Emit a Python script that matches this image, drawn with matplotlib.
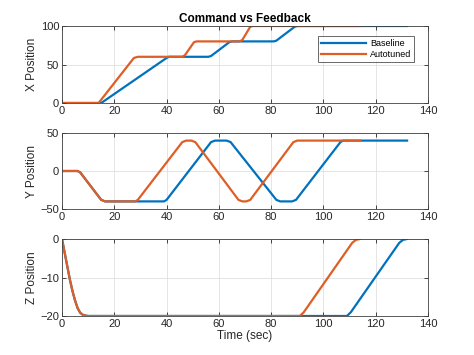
import matplotlib.pyplot as plt
import numpy as np

# Time breakpoints and values
x_base_t = [0, 15, 40, 41, 56, 57, 64, 65, 81, 82, 89, 90, 132]
x_base_v = [0, 0, 58.5, 60, 60, 61, 79, 80, 80, 81, 99, 100, 100]
x_auto_t = [0, 14, 27.5, 29, 46, 47, 50.5, 51.5, 68, 69, 72, 73, 114]
x_auto_v = [0, 0, 58.5, 60, 60, 62, 79, 80, 80, 82, 99, 100, 100]

y_base_t = [0, 6, 7, 15, 16.5, 39, 40, 57, 58.5, 63, 64.5, 82, 83.5, 88, 89.5, 106.5, 107.5, 132]
y_base_v = [0, 0, -2, -38, -40, -40, -38, 38, 40, 40, 38, -38, -40, -40, -38, 38, 40, 40]
y_auto_t = [0, 6, 7, 15, 16.5, 28, 29, 46, 47.5, 49.5, 51, 67.5, 69, 70.5, 72, 88.5, 90, 114]
y_auto_v = [0, 0, -2, -38, -40, -40, -38, 38, 40, 40, 38, -38, -40, -40, -38, 38, 40, 40]

z_base_t = [0, 1, 2, 3, 4, 5, 6, 7, 8, 9, 10, 12, 109, 110.5, 129, 130.5, 132]
z_base_v = [0, -3.5, -7, -10.5, -13.5, -16, -18, -19.2, -19.7, -19.9, -20, -20, -20, -19, -1, -0.2, 0]
z_auto_t = [0, 1, 2, 3, 4, 5, 6, 7, 8, 9, 10, 12, 91, 92.5, 111, 112.5, 114]
z_auto_v = [0, -3.5, -7, -10.5, -13.5, -16, -18, -19.2, -19.7, -19.9, -20, -20, -20, -19, -1, -0.2, 0]

blue = '#0072BD'
orange = '#DE5F26'

plt.rcParams['font.family'] = ['Liberation Sans', 'DejaVu Sans']
plt.rcParams['font.size'] = 8

fig = plt.figure(figsize=(4.74, 3.55), dpi=100)
W, H = 474, 355
def ax_at(l, t, r, b):
    return fig.add_axes([l / W, 1 - b / H, (r - l) / W, (b - t) / H])

axes = [ax_at(62, 26, 428, 103), ax_at(62, 133, 428, 209), ax_at(62, 239, 428, 316)]

data = [
    (x_base_t, x_base_v, x_auto_t, x_auto_v, 'X Position', (0, 100), [0, 50, 100]),
    (y_base_t, y_base_v, y_auto_t, y_auto_v, 'Y Position', (-50, 50), [-50, 0, 50]),
    (z_base_t, z_base_v, z_auto_t, z_auto_v, 'Z Position', (-20, 0), [-20, -10, 0]),
]

for ax, (bt, bv, at, av, lab, yl, yt) in zip(axes, data):
    ax.plot(bt, bv, color=blue, lw=1.6, label='Baseline')
    ax.plot(at, av, color=orange, lw=1.6, label='Autotuned')
    ax.set_xlim(0, 140)
    ax.set_ylim(*yl)
    ax.set_yticks(yt)
    ax.set_xticks(np.arange(0, 141, 20))
    ax.set_ylabel(lab, fontsize=8.5, labelpad=2, color='#262626')
    ax.grid(True, color='#e0e0e0', lw=0.6)
    ax.set_axisbelow(True)
    ax.tick_params(direction='in', length=3, width=0.6, top=True, right=True,
                   labelsize=8, colors='#262626', pad=2)
    for s in ax.spines.values():
        s.set_color('#404040')
        s.set_linewidth(0.6)

axes[0].set_title('Command vs Feedback', fontsize=8.5, fontweight='bold', pad=3)
leg = axes[0].legend(loc='upper right', fontsize=6.5, frameon=True, fancybox=False,
                     edgecolor='#262626', handlelength=5, borderpad=0.35,
                     labelspacing=0.25, handletextpad=0.4, bbox_to_anchor=(0.975, 0.93))
leg.get_frame().set_linewidth(0.6)
axes[2].set_xlabel('Time (sec)', fontsize=8.5, labelpad=1, color='#262626')

fig.savefig('out.png', dpi=100)
